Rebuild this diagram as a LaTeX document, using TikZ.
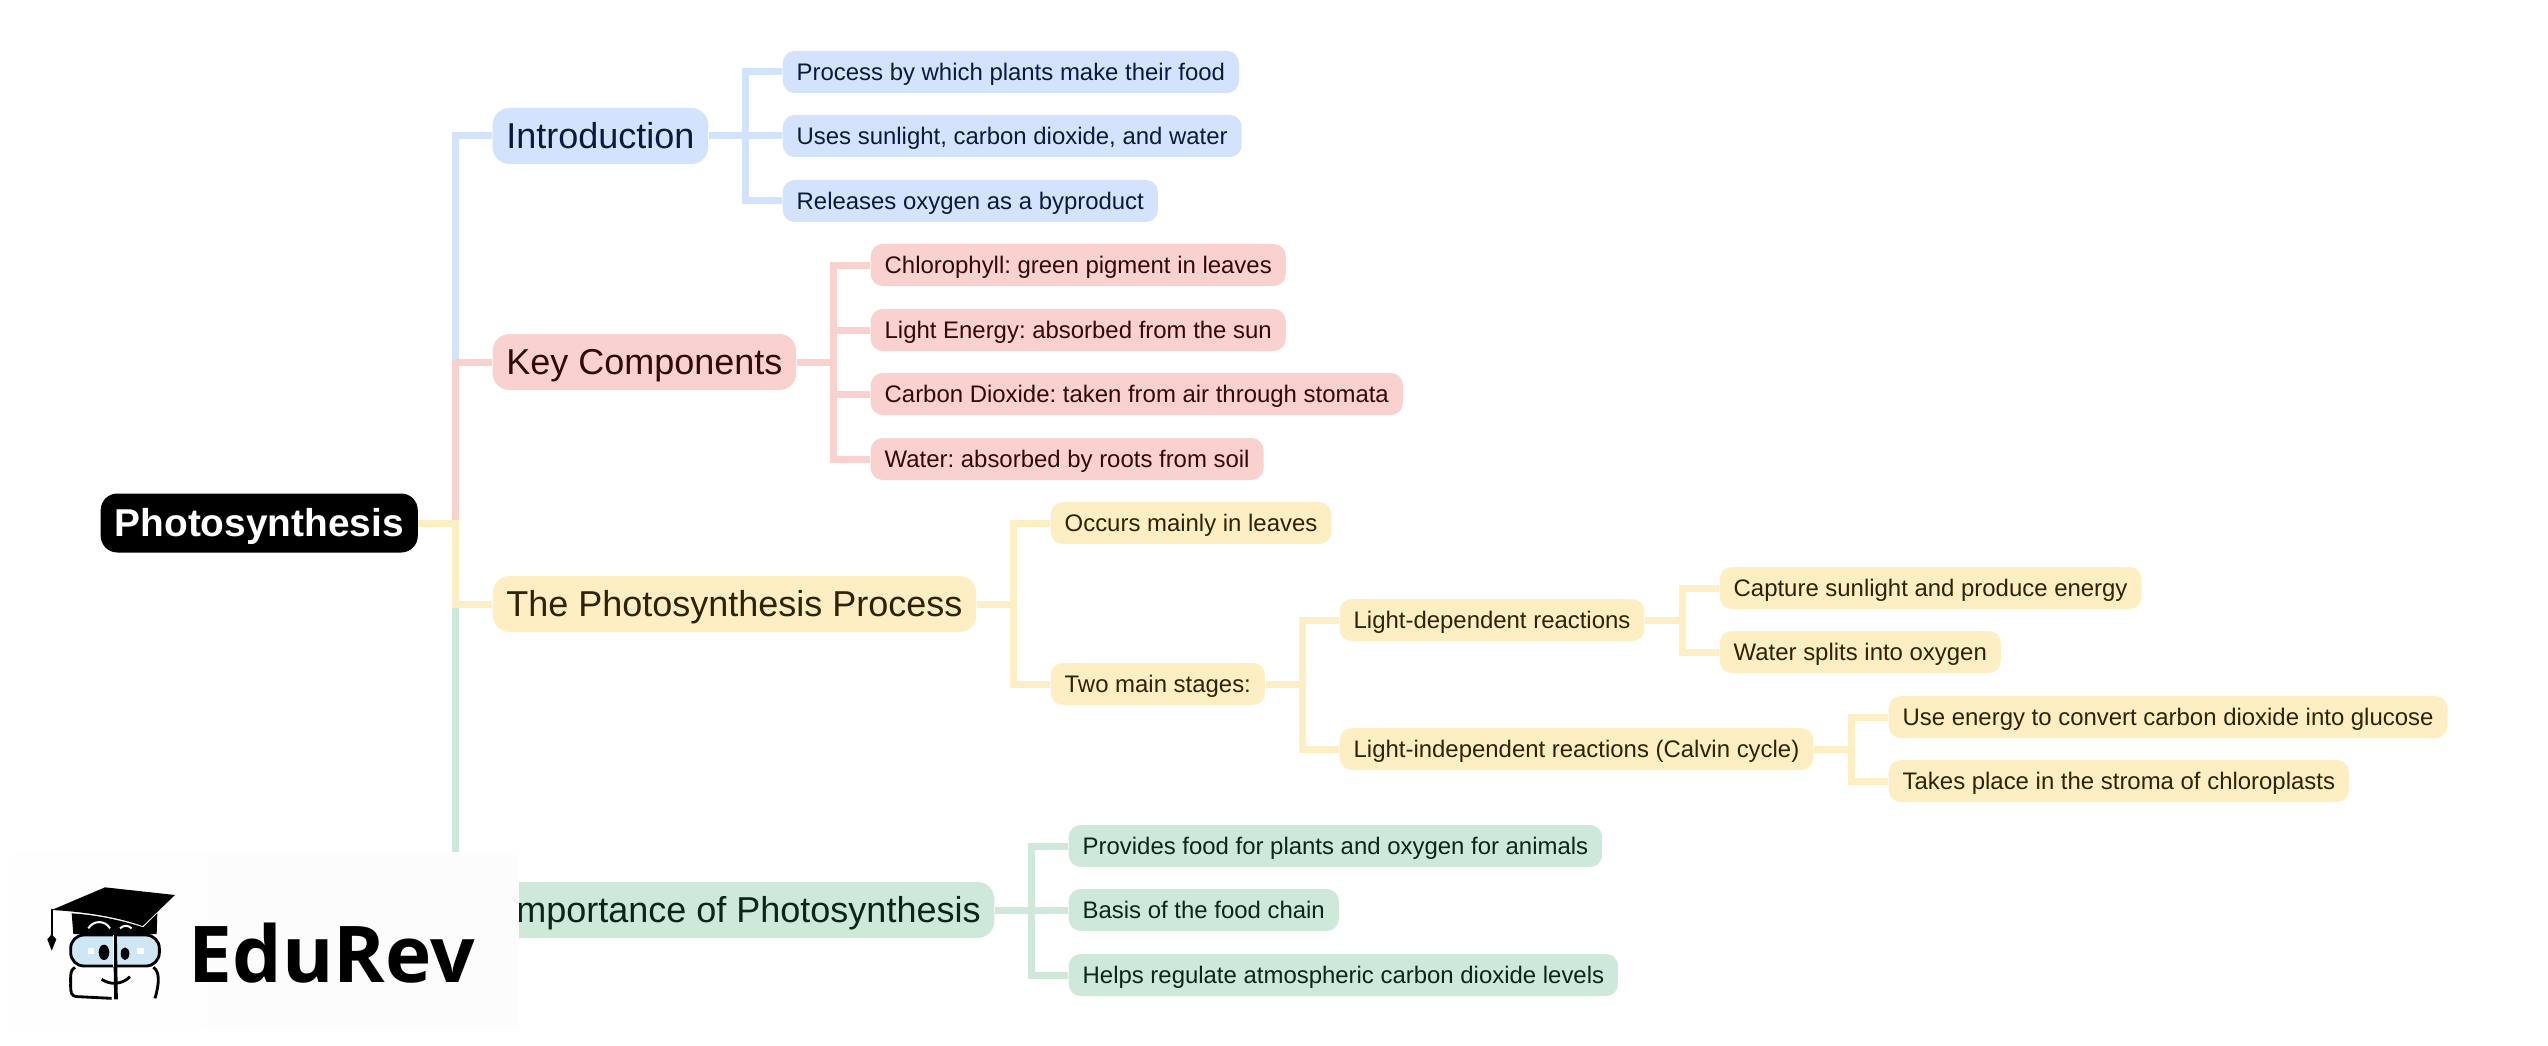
\documentclass[tikz,border=0pt]{standalone}
\usepackage{fontspec}
\usepackage{xcolor}
\usetikzlibrary{calc}
\setmainfont{Liberation Sans}
\newfontfamily\logofont{Open Sans}

\definecolor{bluefill}{HTML}{D3E3FD}
\definecolor{bluetext}{HTML}{0A1A3A}
\definecolor{redfill}{HTML}{F9D2D0}
\definecolor{redtext}{HTML}{2E0A0A}
\definecolor{yellowfill}{HTML}{FDEFC3}
\definecolor{yellowtext}{HTML}{2E2300}
\definecolor{greenfill}{HTML}{CEE9D9}
\definecolor{greentext}{HTML}{0A2616}
\definecolor{patchfill}{HTML}{FEFEFE}
\definecolor{patchinner}{HTML}{FCFCFC}
\definecolor{lensfill}{HTML}{CFE6F5}

\tikzset{
	basebox/.style={anchor=west, inner ysep=0pt},
	leafbox/.style={basebox, rounded corners=3.6pt, inner xsep=4.2pt, minimum height=12.6pt, text height=6.47pt, text depth=1.52pt, font=\fontsize{7.18pt}{8pt}\selectfont\frenchspacing},
	branchbox/.style={basebox, rounded corners=5pt, inner xsep=4.1pt, minimum height=16.8pt, text height=9.77pt, text depth=2.29pt, font=\fontsize{10.8pt}{12pt}\selectfont},
	rootbox/.style={basebox, rounded corners=5pt, inner xsep=4.2pt, minimum height=17.7pt, text height=10.6pt, text depth=2.48pt, fill=black, text=white, font=\fontsize{11.65pt}{13pt}\selectfont\bfseries},
	link/.style={line width=2.1pt},
	logoline/.style={draw=black, line width=.85pt}
}

\begin{document}
\begin{tikzpicture}[x=.3pt, y=-.3pt]
	\useasboundingbox (0,0) rectangle (2548,1046);
	
	\node[rootbox] (root) at (100,523) {Photosynthesis};
	
	% big boxes next to the root
	\foreach \boxname/\ypos/\shade/\boxtext in {intro/136/blue/Introduction, key/362/red/Key Components, process/604/yellow/The Photosynthesis Process, importance/910/green/Importance of Photosynthesis} {
		\node[branchbox, fill=\shade fill, text=\shade text] (\boxname) at (492,\ypos) {\boxtext};
	}
	
	% small boxes
	\foreach \boxname/\xpos/\ypos/\shade/\boxtext in {
		introa/782/72/blue/Process by which plants make their food,
		introb/782/136/blue/{Uses sunlight, carbon dioxide, and water},
		introc/782/201/blue/Releases oxygen as a byproduct,
		keya/870/265/red/Chlorophyll: green pigment in leaves,
		keyb/870/330/red/Light Energy: absorbed from the sun,
		keyc/870/394/red/Carbon Dioxide: taken from air through stomata,
		keyd/870/459/red/Water: absorbed by roots from soil,
		occurs/1050/523/yellow/Occurs mainly in leaves,
		stages/1050/684/yellow/Two main stages:,
		lightdep/1339/620/yellow/Light-dependent reactions,
		lightind/1339/749/yellow/Light-independent reactions (Calvin cycle),
		capture/1719/588/yellow/Capture sunlight and produce energy,
		splits/1719/652/yellow/Water splits into oxygen,
		convert/1888/717/yellow/Use energy to convert carbon dioxide into glucose,
		stroma/1888/781/yellow/Takes place in the stroma of chloroplasts,
		impa/1068/846/green/Provides food for plants and oxygen for animals,
		impb/1068/910/green/Basis of the food chain,
		impc/1068/975/green/Helps regulate atmospheric carbon dioxide levels} {
		\node[leafbox, fill=\shade fill, text=\shade text] (\boxname) at (\xpos,\ypos) {\boxtext};
	}
	
	% elbows, yellow goes last so that it lies on top at the root
	\foreach \parentname/\childname/\shade in {
		root/intro/blue, root/key/red, root/importance/green, root/process/yellow,
		intro/introa/blue, intro/introb/blue, intro/introc/blue,
		key/keya/red, key/keyb/red, key/keyc/red, key/keyd/red,
		process/occurs/yellow, process/stages/yellow,
		stages/lightdep/yellow, stages/lightind/yellow,
		lightdep/capture/yellow, lightdep/splits/yellow,
		lightind/convert/yellow, lightind/stroma/yellow,
		importance/impa/green, importance/impb/green, importance/impc/green} {
		\draw[link, draw=\shade fill] (\parentname.east) -| ($(\parentname.east)!.5!(\childname.west)$) |- (\childname.west);
	}
	
	% logo patch lies over the tree
	\fill[patchfill] (10,852) rectangle (519,1029);
	\fill[patchinner] (207,857) rectangle (519,1029);
	\node[anchor=base west, inner sep=0pt, text=black, font=\logofont\fontsize{23.5pt}{25pt}\selectfont\bfseries] (logotext) at (188,982) {EduRev};
	
	\begin{scope}[shift={(20,870)}, x=.1pt, y=-.1pt]
		% cap
		\fill[black] (95,120) -- (255,52) -- (465,75) -- (368,168) .. controls (290,140) and (190,125) .. (95,120) -- cycle;
		\fill[black] (155,130) -- (160,192) -- (410,192) -- (412,130) -- (370,172) .. controls (300,150) and (230,135) .. (155,130) -- cycle;
		\draw[white, line width=.6pt] (205,175) .. controls (220,150) and (255,150) .. (270,175);
		\draw[white, line width=.6pt] (300,175) .. controls (310,165) and (325,165) .. (335,175);
		\draw[black, line width=.6pt] (95,118) -- (95,200);
		\fill[black] (82,208) -- (95,193) -- (109,208) -- (95,242) -- cycle;
		% glasses
		\draw[logoline, fill=lensfill, rounded corners=4pt] (152,195) rectangle (418,288);
		\fill[white] (203,234) rectangle (222,252);
		\fill[white] (350,234) rectangle (372,252);
		\fill[black] (252,247) ellipse [x radius=16, y radius=23];
		\fill[black] (315,251) ellipse [x radius=13, y radius=19];
		% body
		\draw[logoline] (165,292) .. controls (150,300) and (152,315) .. (152,340) .. controls (152,365) and (150,380) .. (175,380) -- (275,385);
		\draw[logoline] (400,292) .. controls (420,305) and (418,340) .. (405,385);
		\draw[logoline] (245,328) .. controls (270,345) and (305,345) .. (330,320);
		\draw[black, line width=1.1pt] (285,190) -- (288,388);
		\draw[white, line width=.3pt] (279,195) -- (279,290);
	\end{scope}
\end{tikzpicture}
\end{document}
